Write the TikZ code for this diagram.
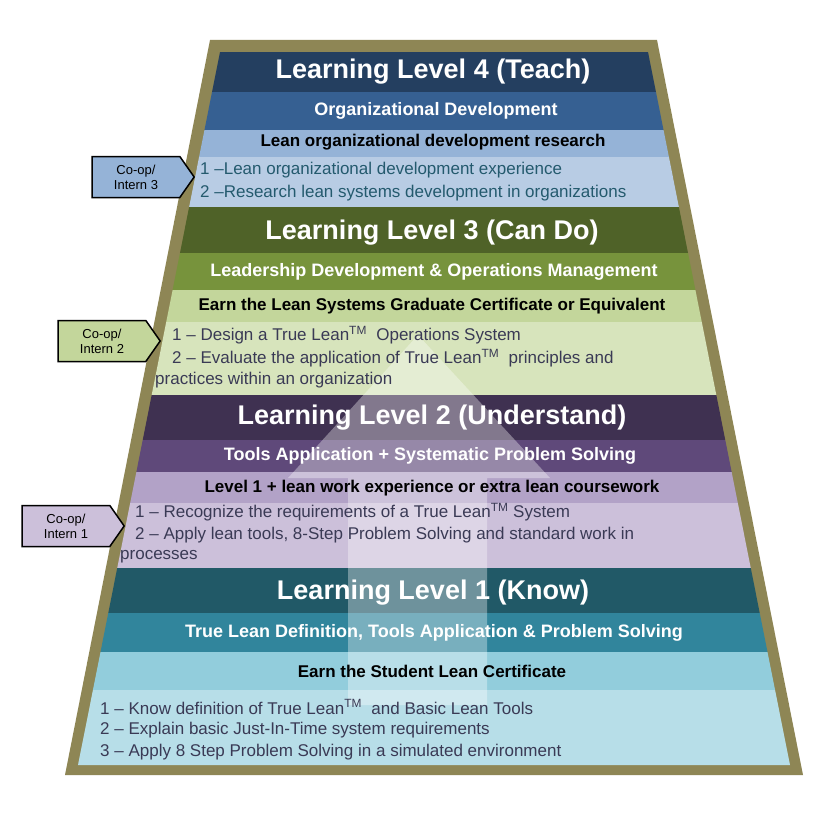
\documentclass[tikz,border=0pt]{standalone}
\usepackage{fontspec}
\setmainfont{Liberation Sans}
\usetikzlibrary{shapes.symbols}
\definecolor{olive}{HTML}{8E8655}
\definecolor{aa}{HTML}{243F60}\definecolor{ab}{HTML}{366092}\definecolor{ac}{HTML}{95B3D7}\definecolor{ad}{HTML}{B8CCE4}
\definecolor{ba}{HTML}{4F6228}\definecolor{bb}{HTML}{77933C}\definecolor{bc}{HTML}{C3D69B}\definecolor{bd}{HTML}{D7E4BC}
\definecolor{ca}{HTML}{3F3151}\definecolor{cb}{HTML}{5F497A}\definecolor{cc}{HTML}{B2A2C7}\definecolor{cd}{HTML}{CCC0DA}
\definecolor{da}{HTML}{215967}\definecolor{db}{HTML}{31859C}\definecolor{dc}{HTML}{92CDDC}\definecolor{dd}{HTML}{B7DEE8}
\definecolor{txt}{HTML}{3A3A55}\definecolor{txtb}{HTML}{245A6E}
\tikzset{
 hdr/.style={text=white,font=\bfseries\fontsize{27}{30}\selectfont},
 sub/.style={text=white,font=\bfseries\fontsize{18}{21}\selectfont},
 thr/.style={text=black,font=\bfseries\fontsize{17}{20}\selectfont},
 ln/.style={anchor=west,text=txt,font=\fontsize{17}{20}\selectfont,inner sep=0},
 coop/.style={signal,signal to=east,draw=black,line width=1.5pt,minimum width=102pt,minimum height=41pt,align=center,font=\fontsize{13}{15}\selectfont,inner sep=1pt,signal pointer angle=110},
}
\newcommand{\tm}{\textsuperscript{TM}}
\begin{document}
\begin{tikzpicture}[x=1pt,y=-1pt]
\useasboundingbox (0,0) rectangle (820,816);
\fill[white] (0,0) rectangle (820,816);
\fill[olive] (210,40) -- (657,40) -- (803,775) -- (65,775) -- cycle;
\begin{scope}
\clip (220,52) -- (648,52) -- (790,765) -- (78,765) -- cycle;
\foreach \a/\b/\c in {52/92/aa,92/130/ab,130/157/ac,157/207/ad,207/253/ba,253/290/bb,290/322/bc,322/395/bd,395/440/ca,440/472/cb,472/503/cc,503/568/cd,568/613/da,613/652/db,652/690/dc,690/766/dd}
 \fill[\c] (0,\a) rectangle (820,\b);
\fill[white,opacity=0.35] (348,705) -- (348,478) -- (288,478) -- (418,335) -- (550,478) -- (487,478) -- (487,705) -- cycle;
\end{scope}
\node[hdr] (h4) at (433,72) {Learning Level 4 (Teach)};
\node[sub] (s4) at (436,111) {Organizational Development};
\node[thr] (t4) at (433,142) {Lean organizational development research};
\node[ln,text=txtb] (l41) at (200,170) {1 –Lean organizational development experience};
\node[ln,text=txtb] (l42) at (200,193) {2 –Research lean systems development in organizations};
\node[hdr] (h3) at (432,233) {Learning Level 3 (Can Do)};
\node[sub] (s3) at (434,272) {Leadership Development \& Operations Management};
\node[thr] (t3) at (432,306) {Earn the Lean Systems Graduate Certificate or Equivalent};
\node[ln] (l31) at (172,335) {1 – Design a True Lean\tm\ \ Operations System};
\node[ln] (l32) at (172,358) {2 – Evaluate the application of True Lean\tm\ \ principles and};
\node[ln] (l33) at (155,380) {practices within an organization};
\node[hdr] (h2) at (432,418) {Learning Level 2 (Understand)};
\node[sub] (s2) at (430,456) {Tools Application + Systematic Problem Solving};
\node[thr] (t2) at (432,488) {Level 1 + lean work experience or extra lean coursework};
\node[ln] (l21) at (135,512) {1 – Recognize the requirements of a True Lean\tm\ System};
\node[ln] (l22) at (135,535) {2 – Apply lean tools, 8-Step Problem Solving and standard work in};
\node[ln] (l23) at (120,557) {processes};
\node[hdr] (h1) at (433,593) {Learning Level 1 (Know)};
\node[sub] (s1) at (434,633) {True Lean Definition, Tools Application \& Problem Solving};
\node[thr] (t1) at (432,671) {Earn the Student Lean Certificate};
\node[ln] (l11) at (100,707) {1 – Know definition of True Lean\tm\ \ and Basic Lean Tools};
\node[ln] (l12) at (100,730) {2 – Explain basic Just-In-Time system requirements};
\node[ln] (l13) at (100,752) {3 – Apply 8 Step Problem Solving in a simulated environment};
\node[coop,fill=ac] (c3) at (136,177) {Co-op/\\Intern 3};
\node[coop,fill=bc] (c2) at (102,341) {Co-op/\\Intern 2};
\node[coop,fill=cd] (c1) at (66,526) {Co-op/\\Intern 1};
\end{tikzpicture}
\end{document}
